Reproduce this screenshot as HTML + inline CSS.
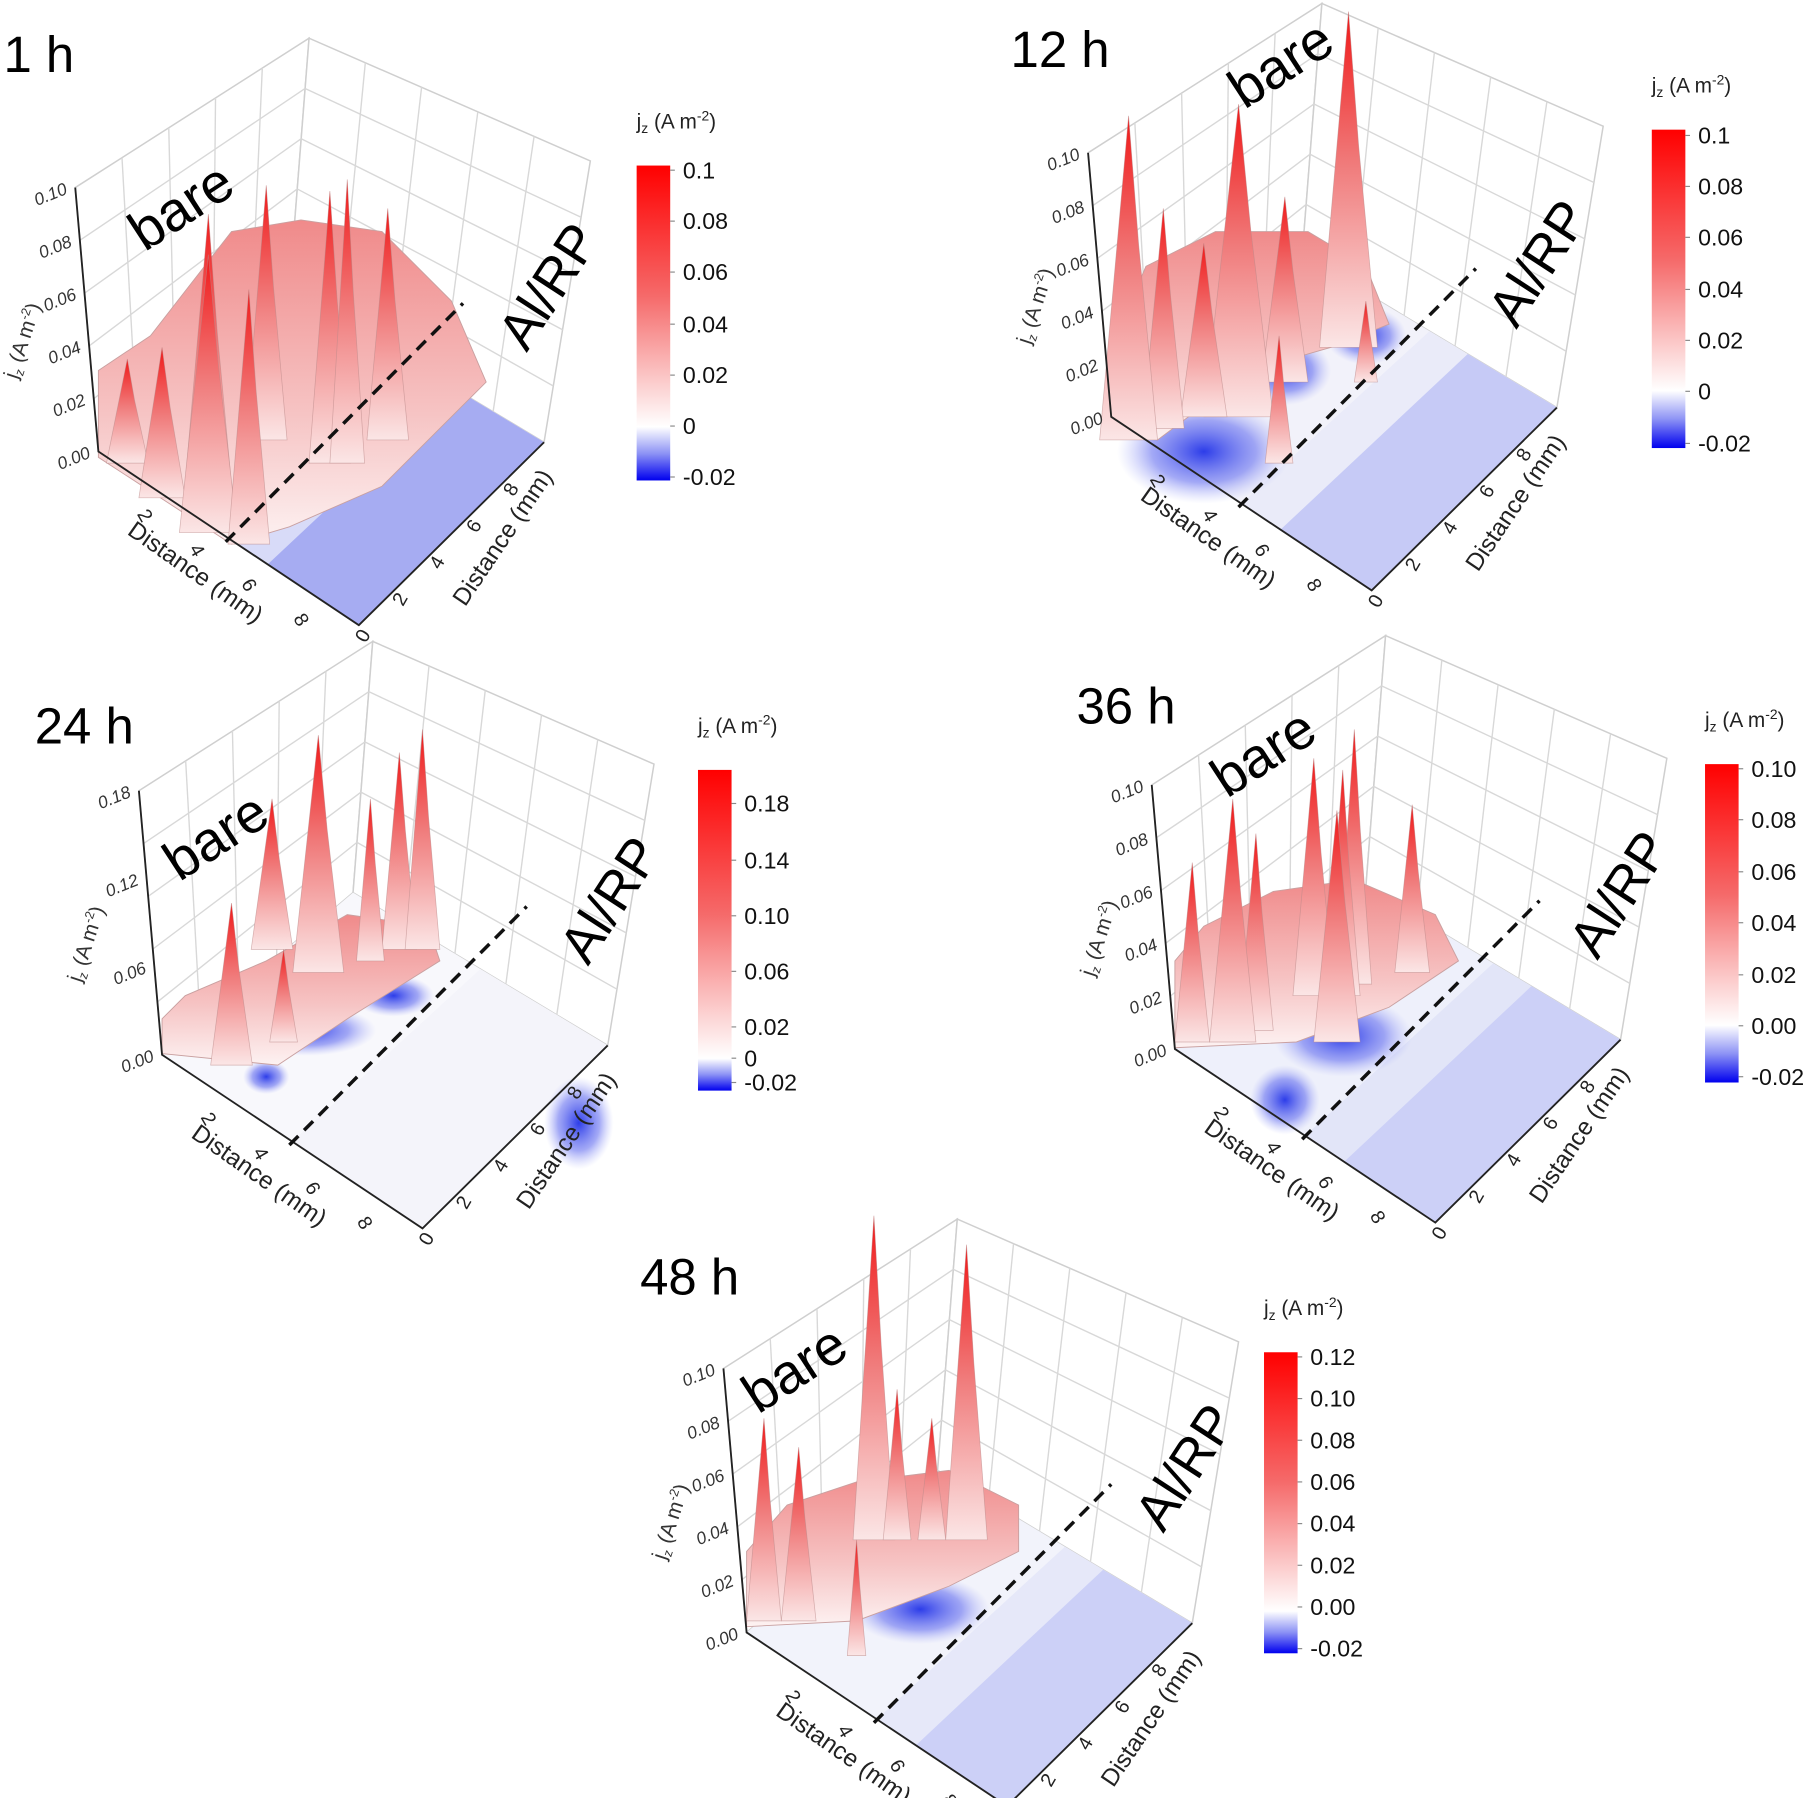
<!DOCTYPE html>
<html><head><meta charset="utf-8"><style>html,body{margin:0;padding:0;background:#fff}svg{display:block}</style></head>
<body>
<svg id="s" xmlns="http://www.w3.org/2000/svg" width="1815" height="1798" viewBox="0 0 1568 1553" preserveAspectRatio="none" font-family="Liberation Sans, sans-serif">
<defs>
<linearGradient id="pk" x1="0" y1="0" x2="0" y2="1"><stop offset="0" stop-color="#f01818"/><stop offset="0.45" stop-color="#f07a7a"/><stop offset="1" stop-color="#fbe6e6"/></linearGradient>
<linearGradient id="mt" x1="0" y1="0" x2="0" y2="1"><stop offset="0" stop-color="#f08a8a"/><stop offset="0.6" stop-color="#f6c4c4"/><stop offset="1" stop-color="#fdf2f2"/></linearGradient>
<radialGradient id="bl"><stop offset="0" stop-color="#2233e8" stop-opacity="0.95"/><stop offset="0.6" stop-color="#6670f0" stop-opacity="0.6"/><stop offset="1" stop-color="#aab0f8" stop-opacity="0"/></radialGradient>
</defs>
<g id="root"></g>
</svg>
<script>
const NS="http://www.w3.org/2000/svg";const root=document.getElementById('root');
function el(t,a,txt){const e=document.createElementNS(NS,t);for(const k in a)e.setAttribute(k,a[k]);if(txt!==undefined)e.textContent=txt;root.appendChild(e);return e;}
function pts(a){return a.map(p=>p[0]+','+p[1]).join(' ');}
function lerp(a,b,t){return [a[0]+(b[0]-a[0])*t,a[1]+(b[1]-a[1])*t];}
const T={L:[85,390],F:[310,540],R:[470,382],B:[250,250],Lt:[65,162],Rt:[510,139],Bt:[267,33]};
let gid=0;
function panel(o,cfg){
 const P={};for(const k in T)P[k]=[T[k][0]+o[0],T[k][1]+o[1]];
 el('polygon',{points:pts([P.L,P.B,P.Bt,P.Lt]),fill:'#fff',stroke:'#cfcfcf','stroke-width':1.3});
 el('polygon',{points:pts([P.B,P.R,P.Rt,P.Bt]),fill:'#fff',stroke:'#cfcfcf','stroke-width':1.3});
 for(let i=1;i<5;i++){let t=i/5;
  let a=lerp(P.L,P.B,t),b=lerp(P.Lt,P.Bt,t);el('line',{x1:a[0],y1:a[1],x2:b[0],y2:b[1],stroke:'#d8d8d8','stroke-width':1.2});
  a=lerp(P.B,P.R,t);b=lerp(P.Bt,P.Rt,t);el('line',{x1:a[0],y1:a[1],x2:b[0],y2:b[1],stroke:'#d8d8d8','stroke-width':1.2});
  a=lerp(P.L,P.Lt,t);b=lerp(P.B,P.Bt,t);el('line',{x1:a[0],y1:a[1],x2:b[0],y2:b[1],stroke:'#d8d8d8','stroke-width':1.2});
  a=lerp(P.R,P.Rt,t);el('line',{x1:a[0],y1:a[1],x2:b[0],y2:b[1],stroke:'#d8d8d8','stroke-width':1.2});
 }
 el('polygon',{points:pts([P.L,P.F,P.R,P.B]),fill:cfg.floor,stroke:'none'});
 const mLF=lerp(P.L,P.F,0.5),mBR=lerp(P.B,P.R,0.5);
 el('polygon',{points:pts([mLF,P.F,P.R,mBR]),fill:cfg.right,stroke:'none'});
 if(cfg.strip){const a=lerp(P.F,P.L,0.35),b=lerp(P.R,P.B,0.35);
  el('polygon',{points:pts([a,P.F,P.R,b]),fill:cfg.strip,stroke:'none'});}
 (cfg.blues||[]).forEach(b=>el('ellipse',{cx:b[0],cy:b[1],rx:b[2],ry:b[3],fill:'url(#bl)'}));
 if(cfg.mt)el('polygon',{points:pts(cfg.mt),fill:'url(#mt)',stroke:'#c9a0a0','stroke-width':0.8});
 cfg.peaks.slice().sort((a,b)=>a[2]-b[2]).forEach(p=>{
  const [x,ay,by,w]=p;
  el('polygon',{points:pts([[x-w,by],[x-w*0.35,ay+(by-ay)*0.35],[x,ay],[x+w*0.35,ay+(by-ay)*0.4],[x+w,by]]),fill:'url(#pk)',stroke:'#b88','stroke-width':0.6,'stroke-opacity':0.6});
 });
 el('polyline',{points:pts([P.Lt,P.L,P.F,P.R]),fill:'none',stroke:'#222','stroke-width':1.6});
 el('line',{x1:195+o[0],y1:468+o[1],x2:400+o[0],y2:262+o[1],stroke:'#111','stroke-width':3,'stroke-dasharray':'11,7'});
 cfg.z.forEach((s,i)=>{const t=i/(cfg.z.length-1);const p=lerp(P.L,P.Lt,t*cfg.zf);
  el('text',{x:p[0]-6,y:p[1]+5,'font-size':15,'text-anchor':'end',fill:'#333','font-style':'italic',transform:`rotate(-22 ${p[0]-6} ${p[1]+5})`},s);});
 const zl=[P.L[0]-60,(P.L[1]+P.Lt[1])/2+20];
 const t1=el('text',{x:zl[0],y:zl[1],'font-size':18,fill:'#333',transform:`rotate(-72 ${zl[0]} ${zl[1]})`,'text-anchor':'middle'},'j');
 const ts=document.createElementNS(NS,'tspan');ts.setAttribute('font-size',11);ts.setAttribute('dy',4);ts.textContent='z';t1.appendChild(ts);
 const ts2=document.createElementNS(NS,'tspan');ts2.setAttribute('dy',-4);ts2.textContent=' (A m';t1.appendChild(ts2);
 const ts3=document.createElementNS(NS,'tspan');ts3.setAttribute('font-size',11);ts3.setAttribute('dy',-7);ts3.textContent='-2';t1.appendChild(ts3);
 const ts4=document.createElementNS(NS,'tspan');ts4.setAttribute('dy',7);ts4.textContent=')';t1.appendChild(ts4);
 ['2','4','6','8'].forEach((s,i)=>{const p=lerp(P.L,P.F,(i+1)*0.2);
  el('text',{x:p[0]-12,y:p[1]+24,'font-size':17,fill:'#222',transform:`rotate(60 ${p[0]-12} ${p[1]+24})`},s);});
 ['0','2','4','6','8'].forEach((s,i)=>{const p=lerp(P.F,P.R,i*0.2);
  el('text',{x:p[0]+6,y:p[1]+16,'font-size':17,fill:'#222',transform:`rotate(-60 ${p[0]+6} ${p[1]+16})`},s);});
 let c=[165+o[0],500+o[1]];
 el('text',{x:c[0],y:c[1],'font-size':21,fill:'#222','text-anchor':'middle',transform:`rotate(35 ${c[0]} ${c[1]})`},'Distance (mm)');
 c=[440+o[0],468+o[1]];
 el('text',{x:c[0],y:c[1],'font-size':21,fill:'#222','text-anchor':'middle',transform:`rotate(-56 ${c[0]} ${c[1]})`},'Distance (mm)');
 el('text',{x:cfg.bare[0],y:cfg.bare[1],'font-size':48,fill:'#000',transform:`rotate(-33 ${cfg.bare[0]} ${cfg.bare[1]})`},'bare');
 el('text',{x:cfg.al[0],y:cfg.al[1],'font-size':46,fill:'#000',transform:`rotate(-57 ${cfg.al[0]} ${cfg.al[1]})`},'Al/RP');
 el('text',{x:cfg.title[0],y:cfg.title[1],'font-size':44,fill:'#000'},cfg.title[2]);
 const cb=cfg.cb;const id='cbg'+(gid++);
 const g=document.createElementNS(NS,'linearGradient');g.setAttribute('id',id);g.setAttribute('x1',0);g.setAttribute('y1',0);g.setAttribute('x2',0);g.setAttribute('y2',1);
 [[0,'#ff0000'],[cb.zero*0.5,'#f56a6a'],[cb.zero,'#ffffff'],[(cb.zero+1)/2,'#8c92f5'],[1,'#0000ee']].forEach(s=>{const st=document.createElementNS(NS,'stop');st.setAttribute('offset',s[0]);st.setAttribute('stop-color',s[1]);g.appendChild(st);});
 document.querySelector('defs').appendChild(g);
 el('rect',{x:cb.x,y:cb.y0,width:29,height:cb.y1-cb.y0,fill:`url(#${id})`});
 cb.labels.forEach(l=>{el('line',{x1:cb.x+29,y1:l[1],x2:cb.x+33,y2:l[1],stroke:'#888'});
  el('text',{x:cb.x+40,y:l[1]+7,'font-size':20,fill:'#111'},l[0]);});
 const tt=el('text',{x:cb.x,y:cb.y0-32,'font-size':18,fill:'#222'},'j');
 const a1=document.createElementNS(NS,'tspan');a1.setAttribute('font-size',12);a1.setAttribute('dy',4);a1.textContent='z';tt.appendChild(a1);
 const a2=document.createElementNS(NS,'tspan');a2.setAttribute('dy',-4);a2.textContent=' (A m';tt.appendChild(a2);
 const a3=document.createElementNS(NS,'tspan');a3.setAttribute('font-size',12);a3.setAttribute('dy',-7);a3.textContent='-2';tt.appendChild(a3);
 const a4=document.createElementNS(NS,'tspan');a4.setAttribute('dy',7);a4.textContent=')';tt.appendChild(a4);
}
const z10=['0.00','0.02','0.04','0.06','0.08','0.10'];
panel([0,0],{floor:'#eceefb',right:'#d8dbf8',strip:'#a6acf2',blues:[[290,375,30,15]],
 mt:[[85,320],[130,290],[200,200],[260,190],[330,200],[390,260],[420,330],[330,420],[250,455],[200,470],[85,395]],
 peaks:[[180,185,440,22],[180,220,460,25],[230,160,380,18],[285,165,400,18],[300,155,400,15],[335,180,380,18],[215,250,470,18],[140,300,430,20],[110,310,400,18]],
 z:z10,zf:1,bare:[125,218],al:[455,305],title:[3,62,'1 h'],
 cb:{x:550,y0:143,y1:415,zero:0.83,labels:[['0.1',147],['0.08',191],['0.06',235],['0.04',280],['0.02',324],['0',368],['-0.02',412]]}});
panel([875,-30],{floor:'#f2f2fa',right:'#eaebf9',strip:'#c6caf6',blues:[[1040,390,75,45],[1110,320,40,30],[1180,290,35,25]],
 mt:[[960,300],[990,230],[1050,200],[1130,200],[1180,230],[1200,280],[1150,300],[1080,320],[1000,380],[960,365]],
 peaks:[[975,100,380,25],[1070,90,360,30],[1165,10,300,25],[1110,170,330,20],[1040,210,360,20],[1105,290,400,12],[1180,260,330,10],[1005,180,370,18]],
 z:z10,zf:1,bare:[1075,95],al:[1310,285],title:[873,58,'12 h'],
 cb:{x:1427,y0:112,y1:387,zero:0.82,labels:[['0.1',117],['0.08',161],['0.06',205],['0.04',250],['0.02',294],['0',338],['-0.02',383]]}});
panel([55,521],{floor:'#f8f8fc',right:'#f4f4fa',strip:null,blues:[[265,890,60,22],[340,860,35,18],[500,970,30,40],[230,930,20,15]],
 mt:[[140,880],[160,860],[230,830],[300,790],[370,800],[380,830],[300,880],[240,920],[140,910]],
 peaks:[[275,635,840,22],[345,650,820,15],[365,630,820,15],[320,690,830,12],[200,780,920,18],[245,820,900,12],[235,690,820,18]],
 z:['0.00','0.06','0.12','0.18'],zf:1,bare:[155,762],al:[508,835],title:[30,642,'24 h'],
 cb:{x:603,y0:665,y1:942,zero:0.9,labels:[['0.18',694],['0.14',743],['0.10',791],['0.06',839],['0.02',887],['0',914],['-0.02',935]]}});
panel([930,516],{floor:'#eef0fb',right:'#e2e5f8',strip:'#ccd0f7',blues:[[1160,895,60,35],[1110,950,30,30]],
 mt:[[1015,830],[1040,800],[1100,770],[1170,760],[1240,790],[1260,830],[1200,870],[1120,900],[1015,905]],
 peaks:[[1030,745,900,15],[1065,690,900,20],[1135,655,860,18],[1160,665,860,15],[1170,630,850,15],[1220,695,840,15],[1085,720,890,15],[1155,700,900,20]],
 z:z10,zf:1,bare:[1060,690],al:[1380,830],title:[930,625,'36 h'],
 cb:{x:1473,y0:660,y1:935,zero:0.82,labels:[['0.10',664],['0.08',708],['0.06',753],['0.04',797],['0.02',842],['0.00',886],['-0.02',930]]}});
panel([560,1020],{floor:'#f2f3fb',right:'#e6e8f9',strip:'#ccd0f7',blues:[[795,1390,60,30]],
 mt:[[645,1340],[680,1300],[740,1280],[820,1270],[880,1300],[880,1340],[820,1370],[740,1400],[645,1405]],
 peaks:[[755,1050,1330,18],[835,1075,1330,18],[660,1225,1400,15],[690,1250,1400,15],[775,1200,1330,12],[805,1225,1330,12],[740,1330,1430,8]],
 z:z10,zf:1,bare:[655,1222],al:[1005,1325],title:[553,1118,'48 h'],
 cb:{x:1092,y0:1168,y1:1428,zero:0.86,labels:[['0.12',1172],['0.10',1208],['0.08',1244],['0.06',1280],['0.04',1316],['0.02',1352],['0.00',1388],['-0.02',1424]]}});
</script>
</body></html>
